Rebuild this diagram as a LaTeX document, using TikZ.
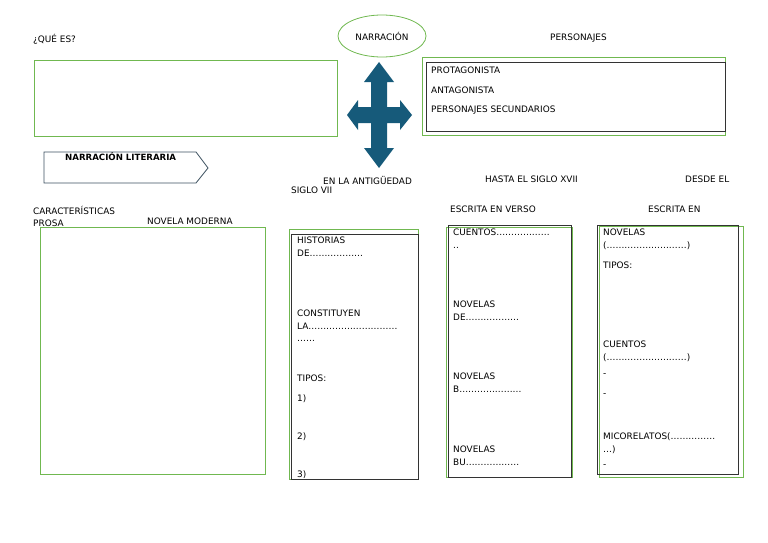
\documentclass[tikz,border=0pt]{standalone}
\usepackage{fontspec}
\setmainfont{DejaVu Sans}
\usetikzlibrary{shapes.geometric}
\definecolor{gr}{RGB}{112,184,80}
\definecolor{bl}{RGB}{22,90,122}
\definecolor{sl}{RGB}{60,80,95}
\begin{document}
\begin{tikzpicture}[x=1pt,y=-1pt,
  t/.style={anchor=north west,inner sep=0pt,font=\fontsize{8.9}{12.5}\selectfont,align=left},
  gbox/.style={draw=gr,line width=0.8pt},
  kbox/.style={draw=black!80,line width=0.9pt}]
\useasboundingbox (0,0) rectangle (768,543);
% top
\node[t] (q) at (33,34) {¿QUÉ ES?};
\node[draw=gr,line width=0.8pt,ellipse,minimum width=88,minimum height=42,inner sep=0pt,font=\fontsize{8.9}{10}\selectfont] (nar) at (382,36) {NARRACIÓN};
\node[t] (pers) at (550,34) {PERSONAJES};
\draw[gbox] (34,60) rectangle (337,136);
\draw[gbox] (422,57) rectangle (725,135);
\draw[kbox] (426,62) rectangle (725,131);
\node[t] (p1) at (431,67) {PROTAGONISTA};
\node[t] (p2) at (431,87) {ANTAGONISTA};
\node[t] (p3) at (431,106) {PERSONAJES SECUNDARIOS};
% four-way arrow
\fill[bl] (379,62) -- (394,82) -- (387,82) -- (387,107) -- (400,107) -- (400,100) -- (412,115) -- (400,130) -- (400,123) -- (387,123) -- (387,148) -- (394,148) -- (379,168) -- (364,148) -- (371,148) -- (371,123) -- (358,123) -- (358,130) -- (347,115) -- (358,100) -- (358,107) -- (371,107) -- (371,82) -- (364,82) -- cycle;
% pentagon
\draw[sl,line width=0.8pt] (44,152) -- (196,152) -- (208,168) -- (196,183) -- (44,183) -- cycle;
\node[t,font=\bfseries\fontsize{8.6}{10}\selectfont] (nl) at (65,152) {NARRACIÓN LITERARIA};
% headings
\node[t] (h1) at (323,176) {EN LA ANTIGÜEDAD};
\node[t] (h1b) at (291,187) {SIGLO VII};
\node[t] (h2) at (485,176) {HASTA EL SIGLO XVII};
\node[t] (h3) at (685,176) {DESDE EL};
\node[t] (c1) at (33,206) {CARACTERÍSTICAS\\PROSA};
\node[t] (nm) at (147,218) {NOVELA MODERNA};
\node[t] (ev) at (450,206) {ESCRITA EN VERSO};
\node[t] (ee) at (648,206) {ESCRITA EN};
% boxes
\draw[gbox] (40,227) rectangle (265,474);
\draw[gbox] (289,229) rectangle (418,479);
\draw[kbox] (291,234) rectangle (418,479);
\draw[gbox] (446,227) rectangle (572,477);
\draw[kbox] (448,225) rectangle (571,477);
\draw[gbox] (599,226) rectangle (743,477);
\draw[kbox] (597,225) rectangle (738,474);
% column 1
\node[t] (a1) at (297,237) {HISTORIAS\\DE………………};
\node[t] (a2) at (297,310) {CONSTITUYEN\\LA…………………………\\……};
\node[t] (a3) at (297,375) {TIPOS:};
\node[t] (a4) at (297,395) {1)};
\node[t] (a5) at (297,433) {2)};
\begin{scope}
\clip (291,234) rectangle (418,477);
\node[t] (a6) at (297,471) {3)};
\end{scope}
% column 2
\node[t] (b1) at (453,229) {CUENTOS………………\\..};
\node[t] (b2) at (453,301) {NOVELAS\\DE………………};
\node[t] (b3) at (453,373) {NOVELAS\\B…………………};
\node[t] (b4) at (453,446) {NOVELAS\\BU………………};
% column 3
\node[t] (d1) at (603,229) {NOVELAS\\(………………………)};
\node[t] (d2) at (603,262) {TIPOS:};
\node[t] (d3) at (603,341) {CUENTOS\\(………………………)};
\node[t] (d4) at (603,374) {-};
\node[t] (d5) at (603,394) {-};
\node[t] (d6) at (603,433) {MICORELATOS(……………\\…)};
\node[t] (d7) at (603,464) {-};
\end{tikzpicture}
\end{document}
